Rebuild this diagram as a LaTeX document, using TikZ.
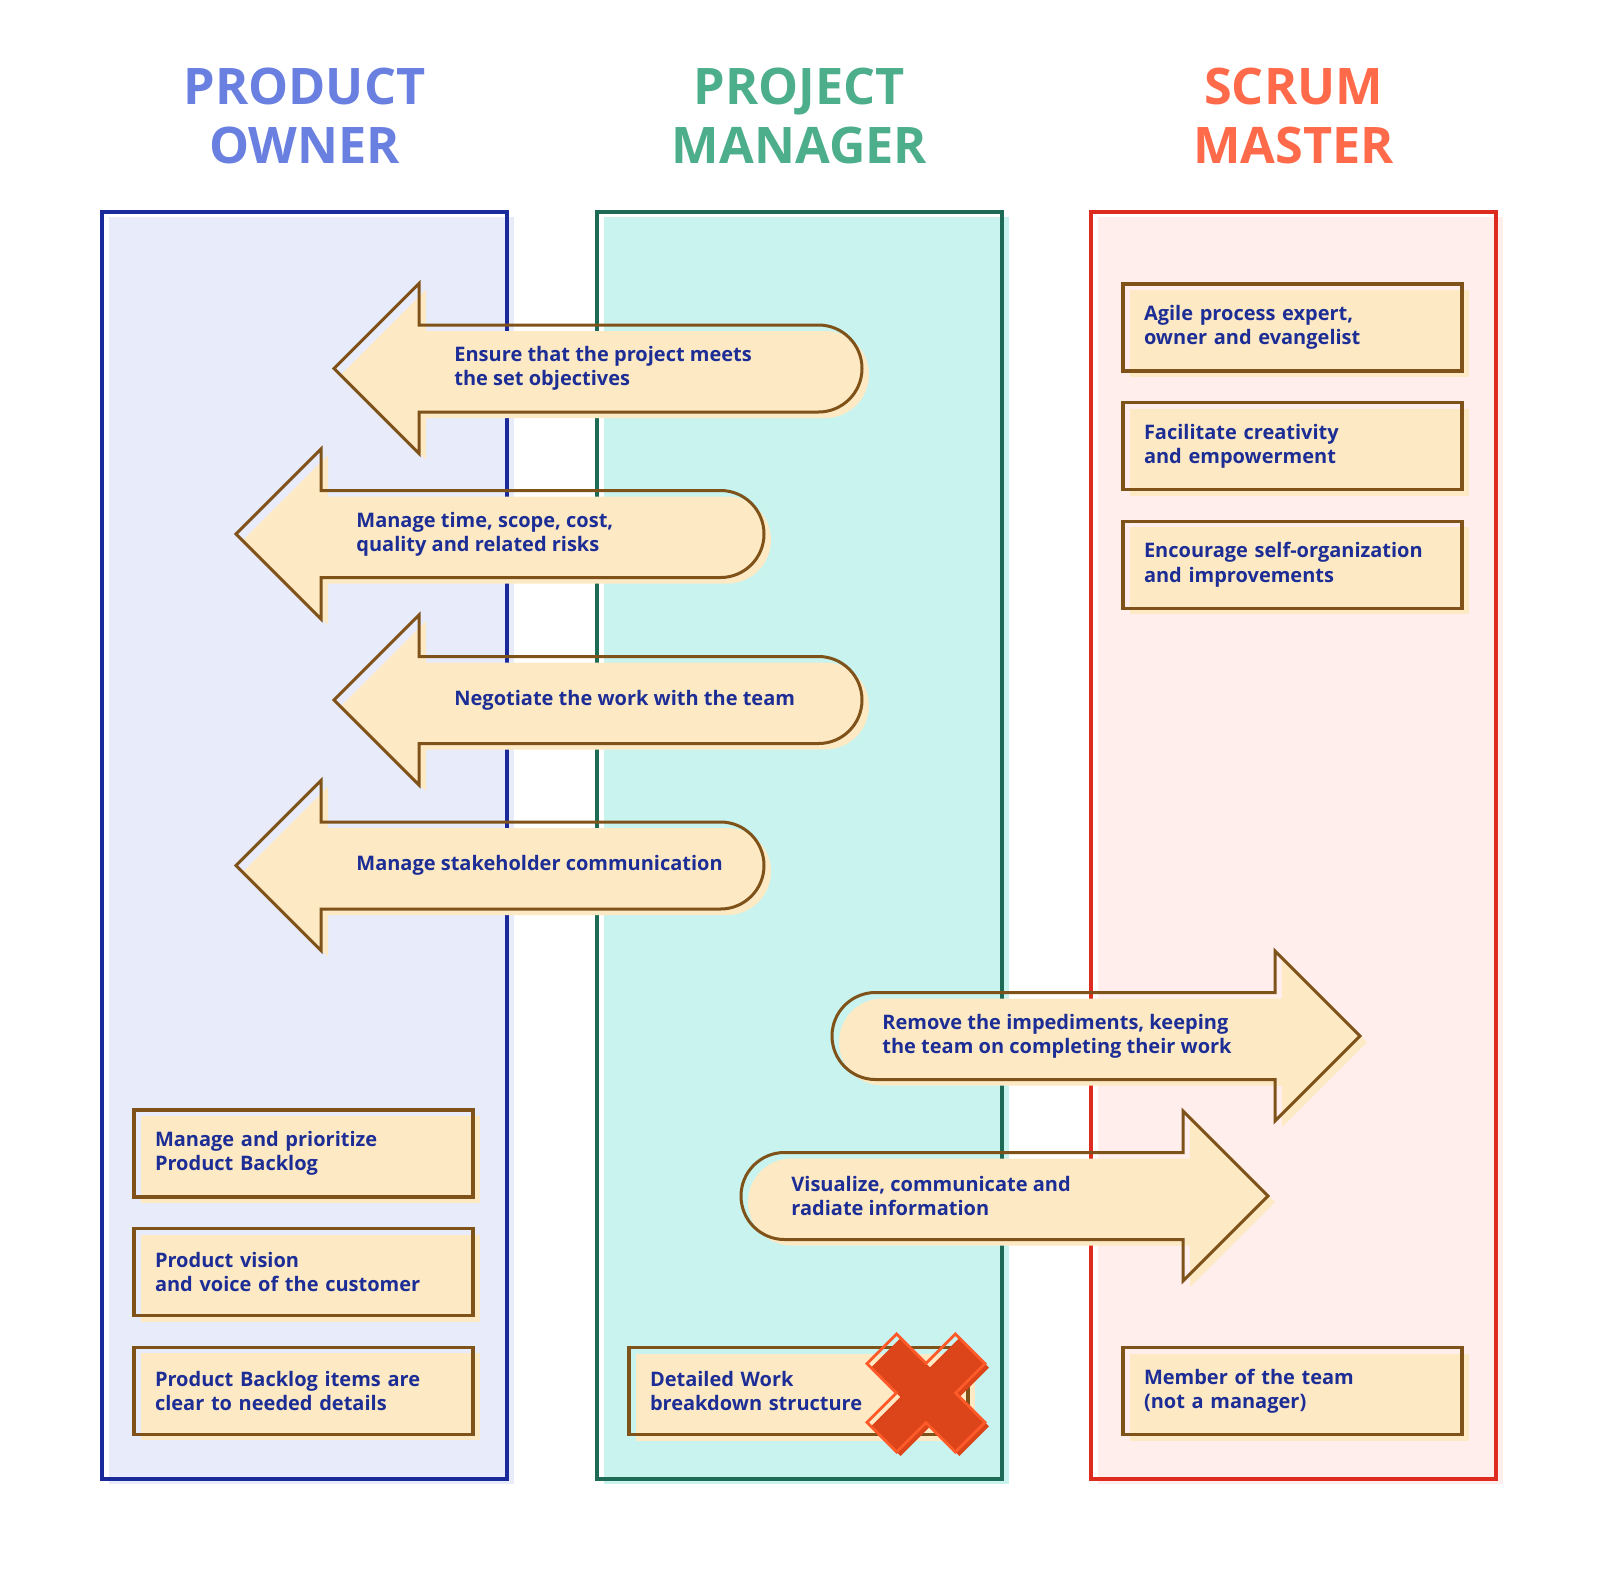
\documentclass[tikz,border=0pt]{standalone}
\usepackage{fontspec}
\setmainfont{Open Sans}
\usetikzlibrary{positioning,shadows}

\definecolor{poTitle}{HTML}{6A80E0}
\definecolor{pmTitle}{HTML}{4DAE8C}
\definecolor{smTitle}{HTML}{FF6A4A}
\definecolor{poLine}{HTML}{1B2A9A}
\definecolor{pmLine}{HTML}{1D6B55}
\definecolor{smLine}{HTML}{DD2C1F}
\definecolor{poFill}{HTML}{E8EBFA}
\definecolor{pmFill}{HTML}{C9F3EE}
\definecolor{smFill}{HTML}{FFEEEB}
\definecolor{peach}{HTML}{FDEAC5}
\definecolor{umber}{HTML}{7F5219}
\definecolor{ink}{HTML}{1C2D95}
\definecolor{xFill}{HTML}{DC4519}
\definecolor{xLine}{HTML}{FF5A2A}

% arrow pointing left: tip x, centre y, rounded end x
\newcommand{\leftbanner}[3]{%
  \draw[banner] (#1,#2) -- ++(85,-85) -- ++(0,41.5) -- (#3-43.5,#2-43.5)
    arc[start angle=-90, end angle=90, radius=43.5]
    -- (#1+85,#2+43.5) -- ++(0,41.5) -- cycle;}
% arrow pointing right: tip x, centre y, rounded end x
\newcommand{\rightbanner}[3]{%
  \draw[banner] (#1,#2) -- ++(-85,-85) -- ++(0,41.5) -- (#3+43.5,#2-43.5)
    arc[start angle=270, end angle=90, radius=43.5]
    -- (#1-85,#2+43.5) -- ++(0,41.5) -- cycle;}

\begin{document}
\begin{tikzpicture}[
            x=0.5pt, y=-0.5pt,
            every node/.style={font=\bfseries\fontsize{10pt}{12.2pt}\selectfont, text=ink}
        ]

        % Define styles for nodes
        \tikzset{
            column/.style 2 args={rectangle, draw=#1, line width=1.6pt, minimum width=202.5pt, minimum height=633.5pt,
                drop shadow={shadow xshift=3.5pt, shadow yshift=-2.5pt, fill=#2, opacity=1}},
            title/.style={font=\bfseries\fontsize{25.2pt}{29.4pt}\selectfont, align=center, anchor=north, inner sep=0pt},
            task/.style={rectangle, draw=umber, line width=1.6pt, minimum width=169.5pt, minimum height=43.5pt,
                text width=148.5pt, inner xsep=10.5pt, inner ysep=0pt, align=left,
                drop shadow={shadow xshift=3.5pt, shadow yshift=-3pt, fill=peach, opacity=1}},
            banner/.style={draw=umber, line width=1.5pt,
                drop shadow={shadow xshift=3.5pt, shadow yshift=-3pt, fill=peach, opacity=1}},
            note/.style={anchor=west, align=left, inner sep=0pt},
            cross/.style={draw=xLine, line width=1.4pt,
                drop shadow={shadow xshift=2pt, shadow yshift=-2pt, fill=xFill, opacity=1}}
        }

        \useasboundingbox (0,0) rectangle (1618,1575);

        % Columns
        \node[column={poLine}{poFill}] (productOwner) at (304.5,845.5) {};
        \node[column={pmLine}{pmFill}] (projectManager) at (799.5,845.5) {};
        \node[column={smLine}{smFill}] (scrumMaster) at (1293.5,845.5) {};

        % Titles
        \node[title, text=poTitle] (poTitle) at (304.5,68) {PRODUCT\\OWNER};
        \node[title, text=pmTitle] (pmTitle) at (799.5,68) {PROJECT\\MANAGER};
        \node[title, text=smTitle] (smTitle) at (1293.5,68) {SCRUM\\MASTER};

        % Arrows towards the product owner
        \leftbanner{334}{368.5}{862}
        \node[note] (objectives) at (454,368.5) {Ensure that the project meets\\the set objectives};
        \leftbanner{236}{534}{764}
        \node[note] (timeScope) at (356,534) {Manage time, scope, cost,\\quality and related risks};
        \leftbanner{334}{700}{862}
        \node[note] (negotiate) at (454,700) {Negotiate the work with the team};
        \leftbanner{236}{865.5}{764}
        \node[note] (stakeholders) at (356,865.5) {Manage stakeholder communication};

        % Arrows towards the scrum master
        \rightbanner{1360}{1036}{832}
        \node[note] (impediments) at (882,1036) {Remove the impediments, keeping\\the team on completing their work};
        \rightbanner{1268}{1196}{741}
        \node[note] (radiate) at (791,1196) {Visualize, communicate and\\radiate information};

        % Scrum master duties
        \node[task] (agileExpert) at (1292.5,327.5) {Agile process expert,\\owner and evangelist};
        \node[task, below=14.2pt of agileExpert] (creativity) {Facilitate creativity\\and empowerment};
        \node[task, below=14.2pt of creativity] (selfOrg) {Encourage self-organization\\and improvements};
        \node[task] (teamMember) at (1292.5,1391) {Member of the team\\(not a manager)};

        % Product owner duties
        \node[task] (backlog) at (303.5,1153.5) {Manage and prioritize\\Product Backlog};
        \node[task, below=14.2pt of backlog] (vision) {Product vision\\and voice of the customer};
        \node[task, below=14.2pt of vision] (backlogItems) {Product Backlog items are\\clear to needed details};

        % Project manager duty, crossed out
        \node[task] (wbs) at (798.5,1391) {Detailed Work\\breakdown structure};
        \begin{scope}[shift={(926,1393)}, rotate=45]
            \draw[cross] (21,62.5) -- (21,21) -- (62.5,21) -- (62.5,-21) -- (21,-21) -- (21,-62.5)
                -- (-21,-62.5) -- (-21,-21) -- (-62.5,-21) -- (-62.5,21) -- (-21,21) -- (-21,62.5) -- cycle;
        \end{scope}

        \end{tikzpicture}
\end{document}
